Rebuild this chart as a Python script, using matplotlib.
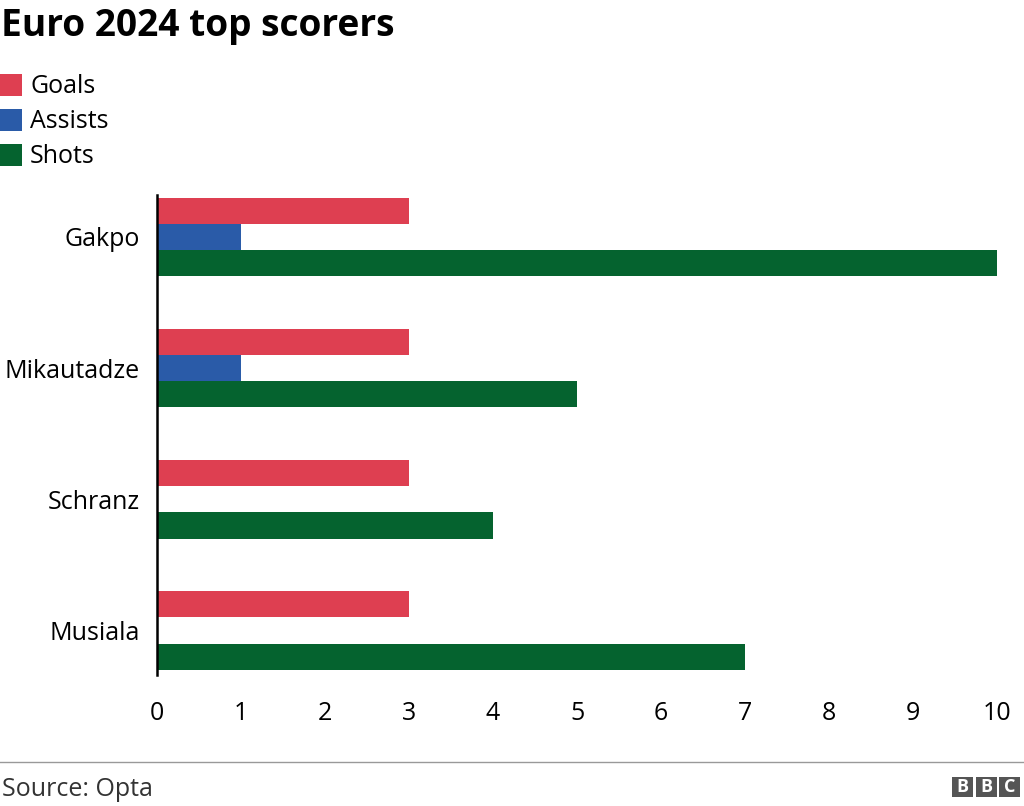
import matplotlib
matplotlib.use("Agg")
import matplotlib.pyplot as plt
from matplotlib.patches import Rectangle
import numpy as np

plt.rcParams['font.family'] = ['Open Sans', 'DejaVu Sans']

players = ["Gakpo", "Mikautadze", "Schranz", "Musiala"]
goals = [3, 3, 3, 3]
assists = [1, 1, 0, 0]
shots = [10, 5, 4, 7]
series_names = ["Goals", "Assists", "Shots"]
colors = ["#DE3F51", "#2A5BA8", "#05632F"]
xticks = [0, 1, 2, 3, 4, 5, 6, 7, 8, 9, 10]

W, H = 1024, 806
fig = plt.figure(figsize=(W / 100, H / 100), dpi=100)

ax = fig.add_axes([157 / W, 1 - 675 / H, 840 / W, 480 / H])
y = np.arange(len(players))
bh = 0.2
for vals, off, c in zip([goals, assists, shots], [-bh, 0, bh], colors):
    ax.barh(y + off, vals, height=bh, color=c, linewidth=0)

ax.set_xlim(0, 10)
ax.set_ylim(3.34, -0.32)
ax.set_yticks(y)
ax.set_yticklabels(players, fontsize=18)
ax.set_xticks(xticks)
ax.set_xticklabels([str(t) for t in xticks], fontsize=18)
ax.tick_params(axis='y', length=0, pad=12.5)
ax.tick_params(axis='x', length=0, pad=19)
for s in ["top", "right", "bottom"]:
    ax.spines[s].set_visible(False)
ax.spines["left"].set_linewidth(1.8)
ax.spines["left"].set_color("black")

# Title
fig.text(1 / W, 1 - 26 / H, "Euro 2024 top scorers", fontsize=26.7, fontweight='bold',
         va='center', ha='left')

# Legend
for i, (name, c) in enumerate(zip(series_names, colors)):
    yc = 85 + i * 35
    fig.patches.append(Rectangle((0, 1 - (yc + 11) / H), 22 / W, 22 / H,
                                 transform=fig.transFigure, color=c, linewidth=0))
    fig.text(30 / W, 1 - (yc + 1.5) / H, name, fontsize=18, va='center', ha='left')

# Footer
fig.add_artist(plt.Line2D([0, 1], [1 - 762 / H, 1 - 762 / H], transform=fig.transFigure,
                          color="#999999", linewidth=1))
fig.text(2 / W, 1 - 789 / H, "Source: Opta", fontsize=18, va='center', ha='left',
         color="#333333")
for i, letter in enumerate("BBC"):
    x0 = 952 + i * 23.5
    fig.patches.append(Rectangle((x0 / W, 1 - 797 / H), 21 / W, 20 / H,
                                 transform=fig.transFigure, color="#555555", linewidth=0))
    fig.text((x0 + 10.5) / W, 1 - 787.5 / H, letter, fontsize=13, fontweight='bold',
             color="white", va='center', ha='center')

fig.savefig("out.png", dpi=100)
